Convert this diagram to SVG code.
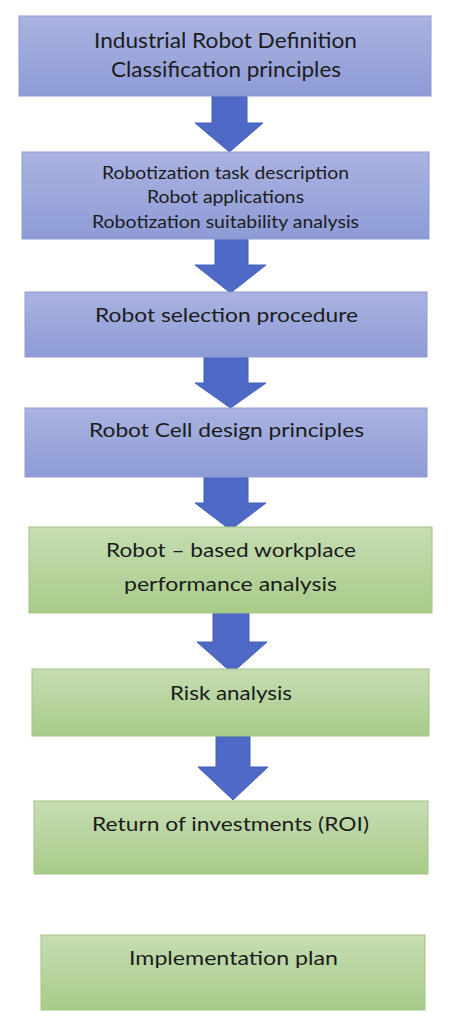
<svg xmlns="http://www.w3.org/2000/svg" width="454" height="1024" viewBox="0 0 454 1024">
<defs>
<linearGradient id="gBlue" x1="0" y1="0" x2="0" y2="1">
<stop offset="0" stop-color="#aab3e1"/>
<stop offset="1" stop-color="#8e9bd6"/>
</linearGradient>
<linearGradient id="gGreen" x1="0" y1="0" x2="0" y2="1">
<stop offset="0" stop-color="#c6ddb3"/>
<stop offset="1" stop-color="#a8cb89"/>
</linearGradient>
<style>
.blue{fill:url(#gBlue);stroke:#8f9ad0;stroke-width:1}
.green{fill:url(#gGreen);stroke:#a2c484;stroke-width:1}
.arrow{fill:#4f69c6;stroke:#4560b8;stroke-width:1}
text{font-family:Lato,"Open Sans","Liberation Sans",sans-serif;fill:#1c1c1c;text-anchor:middle}
.t1{font-size:21px}
.t2{font-size:18px}
.t3{font-size:20px}
</style>
</defs>
<rect width="454" height="1024" fill="#ffffff"/>
<g id="connectors">
<polygon class="arrow" points="212,96 247,96 247,123 263,123 229.5,152 195,123 212,123"/>
<polygon class="arrow" points="215,239 248,239 248,265 266,265 230.5,293 195,265 215,265"/>
<polygon class="arrow" points="204,357 248,357 248,383 266,383 230.5,408 195,383 204,383"/>
<polygon class="arrow" points="204,477 248,477 248,503 266,503 230.5,530 195,503 204,503"/>
<polygon class="arrow" points="213,613 249,613 249,642 267,642 232,673 197,642 213,642"/>
<polygon class="arrow" points="216,736 250,736 250,767 268,767 233,800 198,767 216,767"/>
</g>
<g id="node1">
<rect class="blue" x="19" y="16" width="412" height="80"/>
<text class="t1" x="225.5" y="48" textLength="263" lengthAdjust="spacingAndGlyphs">Industrial Robot Definition</text>
<text class="t1" x="226" y="77" textLength="230" lengthAdjust="spacingAndGlyphs">Classification principles</text>
</g>
<g id="node2">
<rect class="blue" x="22" y="152" width="407" height="87"/>
<text class="t2" x="225.5" y="179" textLength="247" lengthAdjust="spacingAndGlyphs">Robotization task description</text>
<text class="t2" x="225.5" y="203" textLength="157" lengthAdjust="spacingAndGlyphs">Robot applications</text>
<text class="t2" x="225.5" y="228" textLength="267" lengthAdjust="spacingAndGlyphs">Robotization suitability analysis</text>
</g>
<g id="node3">
<rect class="blue" x="25" y="292" width="402" height="65"/>
<text class="t3" x="226.5" y="322" textLength="263" lengthAdjust="spacingAndGlyphs">Robot selection procedure</text>
</g>
<g id="node4">
<rect class="blue" x="25" y="408" width="402" height="69"/>
<text class="t3" x="226.5" y="437" textLength="275" lengthAdjust="spacingAndGlyphs">Robot Cell design principles</text>
</g>
<g id="node5">
<rect class="green" x="29" y="527" width="403" height="86"/>
<text class="t3" x="231" y="557" textLength="250" lengthAdjust="spacingAndGlyphs">Robot – based workplace</text>
<text class="t3" x="230.5" y="591" textLength="213" lengthAdjust="spacingAndGlyphs">performance analysis</text>
</g>
<g id="node6">
<rect class="green" x="32" y="669" width="397" height="67"/>
<text class="t3" x="231" y="700" textLength="122" lengthAdjust="spacingAndGlyphs">Risk analysis</text>
</g>
<g id="node7">
<rect class="green" x="34" y="801" width="394" height="73"/>
<text class="t3" x="230.5" y="831" textLength="277" lengthAdjust="spacingAndGlyphs">Return of investments (ROI)</text>
</g>
<g id="node8">
<rect class="green" x="41" y="935" width="384" height="75"/>
<text class="t3" x="233.5" y="965" textLength="209" lengthAdjust="spacingAndGlyphs">Implementation plan</text>
</g>
</svg>
